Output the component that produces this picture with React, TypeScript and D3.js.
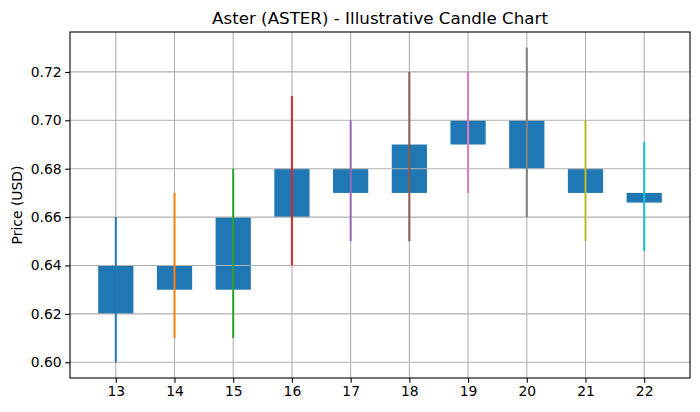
import { useEffect, useRef } from 'react';
import * as d3 from 'd3';

const days = [13, 14, 15, 16, 17, 18, 19, 20, 21, 22];
const bodyLow = [0.62, 0.63, 0.63, 0.66, 0.67, 0.67, 0.69, 0.68, 0.67, 0.666];
const bodyHigh = [0.64, 0.64, 0.66, 0.68, 0.68, 0.69, 0.7, 0.7, 0.68, 0.67];
const wickLow = [0.6, 0.61, 0.61, 0.64, 0.65, 0.65, 0.67, 0.66, 0.65, 0.646];
const wickHigh = [0.66, 0.67, 0.68, 0.71, 0.7, 0.72, 0.72, 0.73, 0.7, 0.691];
const yTicks = [0.6, 0.62, 0.64, 0.66, 0.68, 0.7, 0.72];

const WICK_COLORS = [
  '#1f77b4', '#ff7f0e', '#2ca02c', '#d62728', '#9467bd',
  '#8c564b', '#e377c2', '#7f7f7f', '#bcbd22', '#17becf',
];

const FONT = '"DejaVu Sans", sans-serif';

export default function App() {
  const svgRef = useRef<SVGSVGElement>(null);

  useEffect(() => {
    if (!svgRef.current) return;
    d3.select(svgRef.current).selectAll('*').remove();

    const width = 700;
    const height = 412;
    const margin = { top: 32, right: 10, bottom: 34, left: 70 };
    const barWidth = 0.6;

    const svg = d3.select(svgRef.current).attr('width', width).attr('height', height);
    svg.append('rect').attr('width', width).attr('height', height).attr('fill', 'white');

    // matplotlib-style 5% margins
    const xMin = d3.min(days)! - barWidth / 2;
    const xMax = d3.max(days)! + barWidth / 2;
    const xPad = (xMax - xMin) * 0.05;
    const yMin = d3.min(wickLow)!;
    const yMax = d3.max(wickHigh)!;
    const yPad = (yMax - yMin) * 0.05;

    const x = d3
      .scaleLinear()
      .domain([xMin - xPad, xMax + xPad])
      .range([margin.left, width - margin.right]);
    const y = d3
      .scaleLinear()
      .domain([yMin - yPad, yMax + yPad])
      .range([height - margin.bottom, margin.top]);

    const data = days.map((d, i) => ({
      day: d,
      lo: bodyLow[i],
      hi: bodyHigh[i],
      wLo: wickLow[i],
      wHi: wickHigh[i],
      color: WICK_COLORS[i % WICK_COLORS.length],
    }));

    // Bodies
    svg
      .append('g')
      .selectAll('rect')
      .data(data)
      .enter()
      .append('rect')
      .attr('x', (d) => x(d.day - barWidth / 2))
      .attr('width', (d) => x(d.day + barWidth / 2) - x(d.day - barWidth / 2))
      .attr('y', (d) => y(d.hi))
      .attr('height', (d) => y(d.lo) - y(d.hi))
      .attr('fill', '#1f77b4');

    // Grid (above patches, below lines)
    const grid = svg.append('g').attr('stroke', '#b0b0b0').attr('stroke-width', 1.1);
    grid
      .selectAll('line.gx')
      .data(days)
      .enter()
      .append('line')
      .attr('x1', (d) => x(d))
      .attr('x2', (d) => x(d))
      .attr('y1', margin.top)
      .attr('y2', height - margin.bottom);
    grid
      .selectAll('line.gy')
      .data(yTicks)
      .enter()
      .append('line')
      .attr('x1', margin.left)
      .attr('x2', width - margin.right)
      .attr('y1', (d) => y(d))
      .attr('y2', (d) => y(d));

    // Wicks
    svg
      .append('g')
      .selectAll('line')
      .data(data)
      .enter()
      .append('line')
      .attr('x1', (d) => x(d.day))
      .attr('x2', (d) => x(d.day))
      .attr('y1', (d) => y(d.wLo))
      .attr('y2', (d) => y(d.wHi))
      .attr('stroke', (d) => d.color)
      .attr('stroke-width', 2);

    // Axes
    const xAxis = d3
      .axisBottom(x)
      .tickValues(days)
      .tickSize(4.86)
      .tickPadding(3.5)
      .tickFormat((d) => String(d));
    const yAxis = d3
      .axisLeft(y)
      .tickValues(yTicks)
      .tickSize(4.86)
      .tickPadding(3.5)
      .tickFormat(d3.format('.2f'));

    const gx = svg
      .append('g')
      .attr('transform', `translate(0,${height - margin.bottom})`)
      .call(xAxis);
    const gy = svg.append('g').attr('transform', `translate(${margin.left},0)`).call(yAxis);

    [gx, gy].forEach((g) => {
      g.select('.domain').remove();
      g.selectAll('.tick line').attr('stroke', '#000').attr('stroke-width', 1.1);
      g.selectAll('.tick text')
        .attr('fill', '#000')
        .style('font-family', FONT)
        .style('font-size', '13.9px');
    });

    // Frame
    svg
      .append('rect')
      .attr('x', margin.left)
      .attr('y', margin.top)
      .attr('width', width - margin.left - margin.right)
      .attr('height', height - margin.top - margin.bottom)
      .attr('fill', 'none')
      .attr('stroke', '#000')
      .attr('stroke-width', 1.1);

    // Title and label
    svg
      .append('text')
      .attr('x', (margin.left + width - margin.right) / 2)
      .attr('y', 24)
      .attr('text-anchor', 'middle')
      .style('font-family', FONT)
      .style('font-size', '16.7px')
      .text('Aster (ASTER) - Illustrative Candle Chart');

    svg
      .append('text')
      .attr('transform', `translate(22,${(margin.top + height - margin.bottom) / 2}) rotate(-90)`)
      .attr('text-anchor', 'middle')
      .style('font-family', FONT)
      .style('font-size', '13.9px')
      .text('Price (USD)');
  }, []);

  return (
    <div style={{ position: 'absolute', left: 0, top: 0 }}>
      <svg ref={svgRef}></svg>
    </div>
  );
}
